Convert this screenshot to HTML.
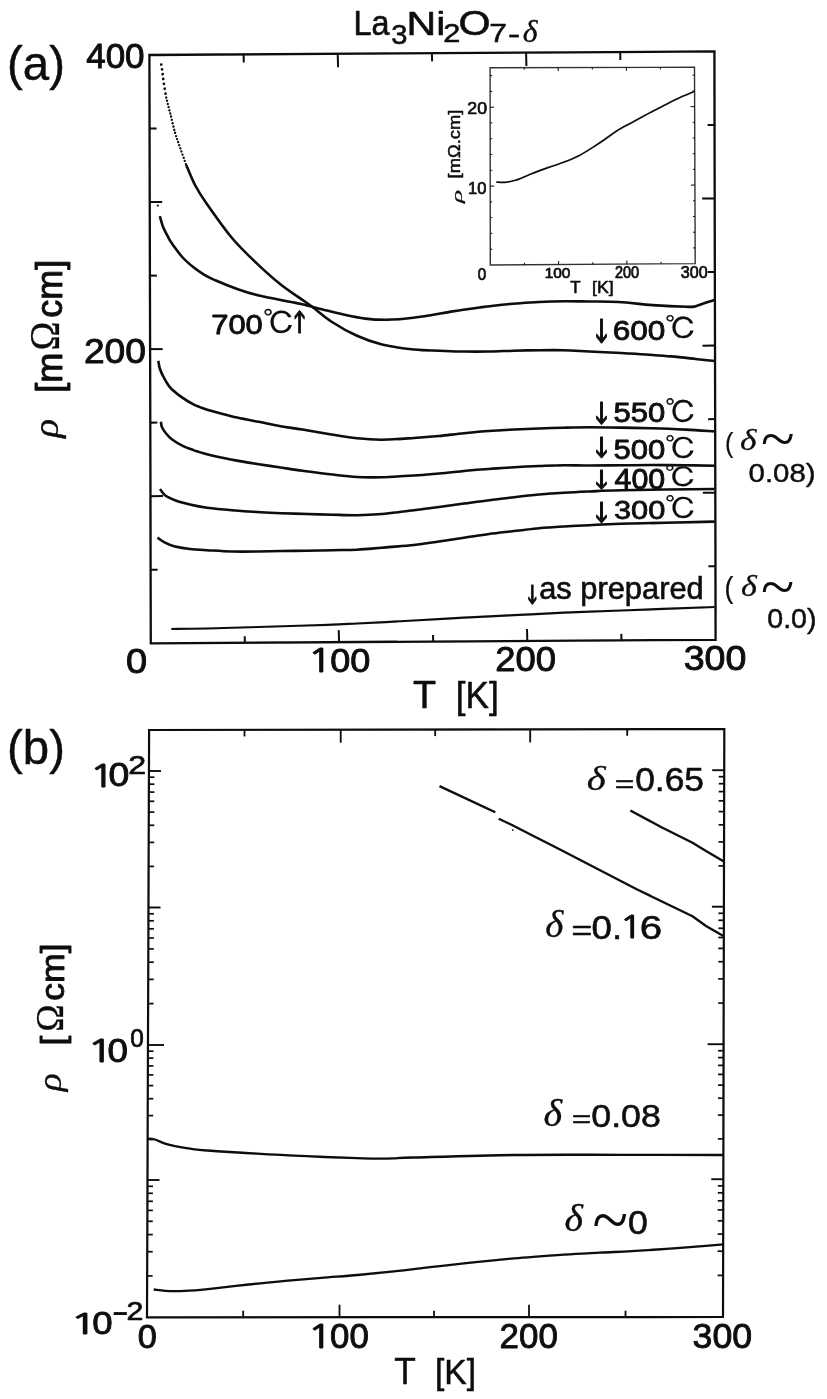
<!DOCTYPE html>
<html><head><meta charset="utf-8"><title>La3Ni2O7-delta resistivity</title>
<style>html,body{margin:0;padding:0;background:#fff}svg{display:block}text{fill:#0a0a0a}</style></head>
<body>
<svg width="827" height="1399" viewBox="0 0 827 1399">
<defs><filter id="soft" x="0" y="0" width="827" height="1399" filterUnits="userSpaceOnUse"><feGaussianBlur stdDeviation="0.45"/></filter></defs>
<rect width="827" height="1399" fill="#fff"/>
<g filter="url(#soft)">
<g fill="none" stroke="#0a0a0a" stroke-linecap="butt" stroke-linejoin="miter">
<polygon points="149.4,55.0 714.4,51.4 715.6,639.8 150.8,643.3" stroke-width="2.3"/>
<line x1="243.6" y1="54.4" x2="243.8" y2="62.4" stroke-width="2.0"/>
<line x1="244.9" y1="642.7" x2="244.7" y2="636.2" stroke-width="2.0"/>
<line x1="337.7" y1="53.8" x2="338.1" y2="67.3" stroke-width="2.0"/>
<line x1="339.1" y1="642.1" x2="338.7" y2="630.1" stroke-width="2.0"/>
<line x1="431.9" y1="53.2" x2="432.1" y2="61.2" stroke-width="2.0"/>
<line x1="433.2" y1="641.5" x2="433.0" y2="635.0" stroke-width="2.0"/>
<line x1="526.1" y1="52.6" x2="526.4" y2="66.1" stroke-width="2.0"/>
<line x1="527.3" y1="641.0" x2="527.0" y2="629.0" stroke-width="2.0"/>
<line x1="620.2" y1="52.0" x2="620.4" y2="60.0" stroke-width="2.0"/>
<line x1="621.5" y1="640.4" x2="621.3" y2="633.9" stroke-width="2.0"/>
<line x1="150.6" y1="569.8" x2="157.6" y2="569.7" stroke-width="2.0"/>
<line x1="715.4" y1="566.2" x2="708.4" y2="566.3" stroke-width="2.0"/>
<line x1="150.5" y1="496.2" x2="163.0" y2="496.1" stroke-width="2.0"/>
<line x1="715.3" y1="492.7" x2="702.8" y2="492.8" stroke-width="2.0"/>
<line x1="150.3" y1="422.7" x2="157.3" y2="422.6" stroke-width="2.0"/>
<line x1="715.1" y1="419.1" x2="708.1" y2="419.2" stroke-width="2.0"/>
<line x1="150.1" y1="349.1" x2="162.6" y2="349.1" stroke-width="2.0"/>
<line x1="715.0" y1="345.6" x2="702.5" y2="345.7" stroke-width="2.0"/>
<line x1="149.9" y1="275.6" x2="156.9" y2="275.6" stroke-width="2.0"/>
<line x1="714.9" y1="272.0" x2="707.9" y2="272.1" stroke-width="2.0"/>
<line x1="149.8" y1="202.1" x2="162.2" y2="202.0" stroke-width="2.0"/>
<line x1="714.7" y1="198.5" x2="702.2" y2="198.6" stroke-width="2.0"/>
<line x1="149.6" y1="128.5" x2="156.6" y2="128.5" stroke-width="2.0"/>
<line x1="714.6" y1="124.9" x2="707.6" y2="125.0" stroke-width="2.0"/>
<path d="M161.2,64.5C161.4,65.8 162.1,69.5 162.5,72.5C162.9,75.5 163.1,78.3 163.7,82.5C164.3,86.7 165.8,95.0 166.2,97.5" stroke-width="2.7" stroke-dasharray="0.1 4.8" stroke-linecap="round"/>
<path d="M166.2,97.5C166.8,100.0 168.5,106.7 170.0,112.5C171.5,118.3 173.3,126.7 175.0,132.5C176.7,138.3 178.1,142.1 180.0,147.5C181.9,152.9 185.2,162.1 186.2,165.0" stroke-width="2.3" stroke-dasharray="0.1 3.2" stroke-linecap="round"/>
<path d="M186.2,165.0C187.7,168.3 191.6,178.6 195.0,185.0C198.4,191.4 200.5,194.9 206.7,203.7C212.9,212.5 223.6,228.0 232.0,238.0C240.4,248.0 248.7,255.7 257.0,263.6C265.3,271.5 273.0,278.5 282.0,285.5C291.0,292.5 302.5,299.7 310.8,305.8C319.1,311.9 324.3,317.0 332.0,322.0C339.7,327.0 348.7,332.1 357.0,335.8C365.3,339.6 372.5,342.2 382.0,344.5C391.5,346.8 404.5,348.5 414.0,349.5C423.5,350.5 430.7,350.4 439.0,350.7C447.3,351.0 455.7,351.4 464.0,351.5C472.3,351.6 480.7,351.6 489.0,351.5C497.3,351.4 505.7,350.9 514.0,350.7C522.3,350.5 530.7,350.3 539.0,350.2C547.3,350.1 555.7,350.0 564.0,350.2C572.3,350.4 579.5,351.0 589.0,351.5C598.5,352.0 611.5,352.5 621.0,353.0C630.5,353.5 637.7,353.9 646.0,354.5C654.3,355.1 662.7,355.6 671.0,356.4C679.3,357.1 688.4,358.2 695.7,359.0C703.0,359.8 711.5,360.7 714.6,361.0" stroke-width="2.6"/>
<circle cx="157.8" cy="205.6" r="1.1" fill="#0a0a0a" stroke="none"/>
<path d="M159.8,216.1C160.4,217.9 161.8,223.7 163.1,227.0C164.4,230.3 165.9,233.0 167.4,235.7C168.9,238.4 169.2,239.7 171.8,243.3C174.4,246.9 179.1,253.5 182.7,257.5C186.3,261.5 189.9,264.4 193.5,267.3C197.1,270.2 200.8,272.7 204.4,274.9C208.0,277.1 209.9,277.9 215.3,280.3C220.8,282.7 229.8,286.4 237.1,289.0C244.3,291.6 251.6,293.8 258.8,295.6C266.1,297.4 273.3,298.4 280.6,299.9C287.9,301.3 295.5,302.8 302.4,304.3C309.3,305.9 314.9,307.5 321.8,309.2C328.7,310.9 336.2,312.9 343.5,314.5C350.8,316.1 358.1,317.7 365.3,318.6C372.6,319.5 379.8,319.9 387.0,319.8C394.2,319.8 401.5,319.1 408.8,318.3C416.1,317.6 423.3,316.5 430.6,315.3C437.9,314.1 444.2,312.7 452.4,311.4C460.6,310.1 472.1,308.5 480.0,307.4C487.9,306.3 493.3,305.7 500.0,305.0C506.7,304.3 513.5,303.7 520.0,303.2C526.5,302.7 531.7,302.3 539.0,302.0C546.3,301.7 555.7,301.4 564.0,301.3C572.3,301.2 579.9,301.4 589.0,301.5C598.1,301.6 608.3,301.4 618.9,302.0C629.5,302.6 641.4,304.3 652.7,305.1C664.0,305.9 679.6,306.6 686.6,306.8C693.6,307.0 692.2,307.0 695.0,306.4C697.8,305.8 700.2,304.5 703.5,303.4C706.8,302.3 712.9,300.6 714.8,300.0" stroke-width="2.6"/>
<path d="M158.3,360.9C158.6,362.2 159.0,366.0 159.8,368.5C160.6,371.0 161.8,373.6 163.1,376.1C164.4,378.6 165.9,381.5 167.4,383.7C168.9,385.9 169.2,386.8 171.8,389.2C174.4,391.6 179.1,395.4 182.7,397.9C186.3,400.4 189.9,402.6 193.5,404.4C197.1,406.2 200.8,407.5 204.4,408.8C208.0,410.1 209.9,410.6 215.3,412.0C220.8,413.4 229.8,415.9 237.1,417.5C244.3,419.1 251.6,420.4 258.8,421.8C266.1,423.2 273.3,424.9 280.6,426.2C287.9,427.5 294.2,428.1 302.4,429.5C310.6,430.9 320.9,432.8 330.0,434.3C339.1,435.8 348.3,437.4 357.0,438.3C365.7,439.2 372.5,439.8 382.0,439.7C391.5,439.6 404.5,438.6 414.0,438.0C423.5,437.4 430.7,436.8 439.0,436.0C447.3,435.2 455.7,434.0 464.0,433.2C472.3,432.4 480.7,431.6 489.0,431.0C497.3,430.4 505.7,429.9 514.0,429.5C522.3,429.1 530.7,428.8 539.0,428.5C547.3,428.2 555.7,427.9 564.0,427.7C572.3,427.5 579.5,427.3 589.0,427.3C598.5,427.3 610.4,427.4 621.0,427.6C631.6,427.8 641.9,428.0 652.7,428.3C663.5,428.6 675.6,429.1 686.0,429.6C696.4,430.1 710.0,431.2 714.8,431.5" stroke-width="2.6"/>
<path d="M160.9,421.8C161.1,422.7 161.1,425.3 162.0,427.3C162.9,429.3 164.7,431.8 166.3,433.8C167.9,435.8 169.1,437.2 171.8,439.2C174.5,441.2 179.1,444.0 182.7,445.8C186.3,447.6 189.9,448.8 193.5,450.1C197.1,451.4 200.8,452.4 204.4,453.4C208.0,454.4 209.9,455.0 215.3,456.2C220.8,457.4 229.8,459.2 237.1,460.6C244.3,462.0 251.6,463.2 258.8,464.3C266.1,465.4 273.3,466.4 280.6,467.5C287.9,468.6 294.2,469.7 302.4,470.8C310.6,471.9 320.9,473.3 330.0,474.3C339.1,475.3 348.3,476.5 357.0,477.0C365.7,477.5 372.5,477.4 382.0,477.2C391.5,476.9 404.5,476.1 414.0,475.5C423.5,474.9 430.7,474.2 439.0,473.5C447.3,472.8 455.7,471.8 464.0,471.0C472.3,470.2 480.7,469.6 489.0,469.0C497.3,468.4 505.7,467.7 514.0,467.2C522.3,466.7 530.7,466.3 539.0,466.0C547.3,465.7 555.7,465.3 564.0,465.2C572.3,465.1 579.5,465.5 589.0,465.5C598.5,465.5 610.5,465.4 621.0,465.3C631.5,465.2 641.2,465.0 652.0,465.0C662.8,465.0 675.5,465.2 686.0,465.3C696.5,465.4 710.0,465.7 714.8,465.8" stroke-width="2.6"/>
<path d="M160.0,489.0C160.8,490.0 162.5,493.3 165.0,495.2C167.5,497.1 170.8,498.6 175.0,500.2C179.2,501.8 184.7,503.2 190.0,504.5C195.3,505.8 200.0,506.8 207.0,507.7C214.0,508.6 223.7,509.5 232.0,510.2C240.3,510.9 248.7,511.5 257.0,512.0C265.3,512.5 273.7,512.9 282.0,513.2C290.3,513.5 298.7,513.8 307.0,514.0C315.3,514.2 323.7,514.5 332.0,514.7C340.3,514.9 348.7,515.3 357.0,515.2C365.3,515.1 372.5,514.8 382.0,514.0C391.5,513.2 404.5,511.4 414.0,510.2C423.5,509.0 430.7,508.1 439.0,507.0C447.3,505.9 455.7,504.6 464.0,503.5C472.3,502.4 480.7,501.2 489.0,500.2C497.3,499.1 505.7,498.1 514.0,497.2C522.3,496.2 530.7,495.2 539.0,494.5C547.3,493.8 555.7,493.2 564.0,492.7C572.3,492.2 579.5,491.9 589.0,491.5C598.5,491.1 600.1,490.6 621.0,490.2C641.9,489.8 699.0,489.2 714.6,489.0" stroke-width="2.6"/>
<path d="M157.5,537.7C158.8,538.5 162.1,541.2 165.0,542.7C167.9,544.2 170.8,545.5 175.0,546.5C179.2,547.5 184.7,548.4 190.0,549.0C195.3,549.6 200.0,549.8 207.0,550.2C214.0,550.6 223.7,551.3 232.0,551.5C240.3,551.7 248.7,551.6 257.0,551.5C265.3,551.4 273.7,551.1 282.0,551.0C290.3,550.9 298.7,550.8 307.0,550.7C315.3,550.6 323.7,550.4 332.0,550.2C340.3,550.0 348.7,550.1 357.0,549.7C365.3,549.3 372.5,548.5 382.0,547.7C391.5,546.9 404.5,546.0 414.0,545.0C423.5,544.0 430.7,542.7 439.0,541.5C447.3,540.3 455.7,539.0 464.0,537.7C472.3,536.5 480.7,535.1 489.0,534.0C497.3,532.9 505.7,532.0 514.0,531.0C522.3,530.0 530.7,529.0 539.0,528.2C547.3,527.5 555.7,527.0 564.0,526.5C572.3,526.0 579.5,525.7 589.0,525.2C598.5,524.8 600.1,524.4 621.0,523.8C641.9,523.2 699.0,522.0 714.6,521.6" stroke-width="2.6"/>
<path d="M171.3,629.0C177.2,628.9 184.4,629.1 207.0,628.5C229.6,627.9 282.0,626.3 307.0,625.5C332.0,624.7 339.2,624.3 357.0,623.5C374.8,622.7 396.2,621.5 414.0,620.5C431.8,619.5 447.3,618.6 464.0,617.7C480.7,616.8 497.3,616.0 514.0,615.2C530.7,614.4 546.2,613.5 564.0,612.7C581.8,611.9 595.9,611.5 621.0,610.5C646.1,609.5 699.0,607.6 714.6,607.0" stroke-width="2.2"/>
<polygon points="490.1,67.7 694.5,67.3 695.2,263.6 490.3,265.0" stroke-width="1.4" stroke="#333"/>
<line x1="524.2" y1="67.6" x2="524.2" y2="69.6" stroke-width="1.0"/>
<line x1="524.5" y1="264.8" x2="524.5" y2="262.8" stroke-width="1.0"/>
<line x1="558.2" y1="67.6" x2="558.2" y2="71.1" stroke-width="1.0"/>
<line x1="558.6" y1="264.5" x2="558.6" y2="261.0" stroke-width="1.0"/>
<line x1="592.3" y1="67.5" x2="592.3" y2="69.5" stroke-width="1.0"/>
<line x1="592.8" y1="264.3" x2="592.8" y2="262.3" stroke-width="1.0"/>
<line x1="626.4" y1="67.4" x2="626.4" y2="70.9" stroke-width="1.0"/>
<line x1="626.9" y1="264.1" x2="626.9" y2="260.6" stroke-width="1.0"/>
<line x1="660.4" y1="67.4" x2="660.4" y2="69.4" stroke-width="1.0"/>
<line x1="661.1" y1="263.8" x2="661.1" y2="261.8" stroke-width="1.0"/>
<line x1="490.3" y1="249.2" x2="492.3" y2="249.2" stroke-width="1.0"/>
<line x1="695.1" y1="247.9" x2="693.1" y2="247.9" stroke-width="1.0"/>
<line x1="490.3" y1="233.4" x2="492.3" y2="233.4" stroke-width="1.0"/>
<line x1="695.1" y1="232.2" x2="693.1" y2="232.2" stroke-width="1.0"/>
<line x1="490.3" y1="217.6" x2="492.3" y2="217.6" stroke-width="1.0"/>
<line x1="695.0" y1="216.5" x2="693.0" y2="216.5" stroke-width="1.0"/>
<line x1="490.2" y1="201.9" x2="492.2" y2="201.9" stroke-width="1.0"/>
<line x1="695.0" y1="200.8" x2="693.0" y2="200.8" stroke-width="1.0"/>
<line x1="490.2" y1="186.1" x2="494.2" y2="186.1" stroke-width="1.0"/>
<line x1="694.9" y1="185.1" x2="690.9" y2="185.1" stroke-width="1.0"/>
<line x1="490.2" y1="170.3" x2="492.2" y2="170.3" stroke-width="1.0"/>
<line x1="694.9" y1="169.4" x2="692.9" y2="169.4" stroke-width="1.0"/>
<line x1="490.2" y1="154.5" x2="492.2" y2="154.5" stroke-width="1.0"/>
<line x1="694.8" y1="153.7" x2="692.8" y2="153.7" stroke-width="1.0"/>
<line x1="490.2" y1="138.7" x2="492.2" y2="138.7" stroke-width="1.0"/>
<line x1="694.8" y1="138.0" x2="692.8" y2="138.0" stroke-width="1.0"/>
<line x1="490.2" y1="122.9" x2="492.2" y2="122.9" stroke-width="1.0"/>
<line x1="694.7" y1="122.3" x2="692.7" y2="122.3" stroke-width="1.0"/>
<line x1="490.1" y1="107.2" x2="494.1" y2="107.2" stroke-width="1.0"/>
<line x1="694.6" y1="106.6" x2="690.6" y2="106.6" stroke-width="1.0"/>
<line x1="490.1" y1="91.4" x2="492.1" y2="91.4" stroke-width="1.0"/>
<line x1="694.6" y1="90.9" x2="692.6" y2="90.9" stroke-width="1.0"/>
<line x1="490.1" y1="75.6" x2="492.1" y2="75.6" stroke-width="1.0"/>
<line x1="694.5" y1="75.2" x2="692.5" y2="75.2" stroke-width="1.0"/>
<path d="M496.3,182.1C497.8,182.1 502.0,182.6 505.2,182.3C508.4,182.0 511.6,181.5 515.4,180.3C519.2,179.1 523.9,176.9 528.1,175.2C532.3,173.5 536.6,171.7 540.8,170.1C545.0,168.5 549.3,167.3 553.5,165.8C557.7,164.3 562.0,163.0 566.2,161.3C570.4,159.6 574.7,157.9 578.9,155.7C583.1,153.5 587.4,150.8 591.6,148.1C595.8,145.4 600.1,142.6 604.3,139.7C608.5,136.8 612.8,133.5 617.0,130.8C621.2,128.1 625.5,126.0 629.7,123.7C633.9,121.4 638.2,119.1 642.4,116.8C646.6,114.5 650.9,112.2 655.1,110.0C659.3,107.8 663.6,105.5 667.8,103.4C672.0,101.3 676.0,99.3 680.5,97.3C685.0,95.3 692.4,92.2 694.8,91.2" stroke-width="1.7"/>
<polygon points="149.1,730.0 724.3,729.1 723.0,1317.0 147.0,1317.3" stroke-width="2.2"/>
<line x1="244.5" y1="729.9" x2="244.5" y2="736.4" stroke-width="1.8"/>
<line x1="243.2" y1="1317.2" x2="243.2" y2="1310.7" stroke-width="1.8"/>
<line x1="340.7" y1="729.7" x2="340.7" y2="742.7" stroke-width="1.8"/>
<line x1="339.5" y1="1317.2" x2="339.5" y2="1304.7" stroke-width="1.8"/>
<line x1="435.2" y1="729.6" x2="435.2" y2="736.1" stroke-width="1.8"/>
<line x1="434.0" y1="1317.2" x2="434.0" y2="1310.7" stroke-width="1.8"/>
<line x1="530.2" y1="729.4" x2="530.2" y2="742.4" stroke-width="1.8"/>
<line x1="529.0" y1="1317.2" x2="529.0" y2="1304.7" stroke-width="1.8"/>
<line x1="627.2" y1="729.3" x2="627.2" y2="735.8" stroke-width="1.8"/>
<line x1="625.5" y1="1317.2" x2="625.5" y2="1310.7" stroke-width="1.8"/>
<line x1="149.0" y1="771.0" x2="161.0" y2="771.0" stroke-width="1.9"/>
<line x1="724.2" y1="770.2" x2="712.2" y2="770.2" stroke-width="1.9"/>
<line x1="148.9" y1="777.2" x2="154.4" y2="777.2" stroke-width="1.7"/>
<line x1="724.2" y1="776.7" x2="718.7" y2="776.7" stroke-width="1.7"/>
<line x1="148.9" y1="784.2" x2="154.4" y2="784.2" stroke-width="1.7"/>
<line x1="724.2" y1="783.7" x2="718.7" y2="783.7" stroke-width="1.7"/>
<line x1="148.9" y1="792.1" x2="154.4" y2="792.1" stroke-width="1.7"/>
<line x1="724.2" y1="791.6" x2="718.7" y2="791.6" stroke-width="1.7"/>
<line x1="148.8" y1="801.3" x2="154.3" y2="801.3" stroke-width="1.7"/>
<line x1="724.1" y1="800.8" x2="718.6" y2="800.8" stroke-width="1.7"/>
<line x1="148.8" y1="812.1" x2="154.3" y2="812.1" stroke-width="1.7"/>
<line x1="724.1" y1="811.6" x2="718.6" y2="811.6" stroke-width="1.7"/>
<line x1="148.8" y1="825.3" x2="154.3" y2="825.3" stroke-width="1.7"/>
<line x1="724.1" y1="824.8" x2="718.6" y2="824.8" stroke-width="1.7"/>
<line x1="148.7" y1="842.4" x2="154.2" y2="842.4" stroke-width="1.7"/>
<line x1="724.0" y1="841.9" x2="718.5" y2="841.9" stroke-width="1.7"/>
<line x1="148.6" y1="866.4" x2="154.1" y2="866.4" stroke-width="1.7"/>
<line x1="724.0" y1="865.9" x2="718.5" y2="865.9" stroke-width="1.7"/>
<line x1="148.5" y1="907.5" x2="160.5" y2="907.5" stroke-width="1.9"/>
<line x1="723.9" y1="906.7" x2="711.9" y2="906.7" stroke-width="1.9"/>
<line x1="148.4" y1="913.8" x2="153.9" y2="913.8" stroke-width="1.7"/>
<line x1="723.9" y1="913.3" x2="718.4" y2="913.3" stroke-width="1.7"/>
<line x1="148.4" y1="920.8" x2="153.9" y2="920.8" stroke-width="1.7"/>
<line x1="723.9" y1="920.3" x2="718.4" y2="920.3" stroke-width="1.7"/>
<line x1="148.4" y1="928.8" x2="153.9" y2="928.8" stroke-width="1.7"/>
<line x1="723.9" y1="928.3" x2="718.4" y2="928.3" stroke-width="1.7"/>
<line x1="148.4" y1="938.0" x2="153.9" y2="938.0" stroke-width="1.7"/>
<line x1="723.8" y1="937.5" x2="718.3" y2="937.5" stroke-width="1.7"/>
<line x1="148.3" y1="948.9" x2="153.8" y2="948.9" stroke-width="1.7"/>
<line x1="723.8" y1="948.4" x2="718.3" y2="948.4" stroke-width="1.7"/>
<line x1="148.3" y1="962.2" x2="153.8" y2="962.2" stroke-width="1.7"/>
<line x1="723.8" y1="961.7" x2="718.3" y2="961.7" stroke-width="1.7"/>
<line x1="148.2" y1="979.4" x2="153.7" y2="979.4" stroke-width="1.7"/>
<line x1="723.7" y1="978.9" x2="718.2" y2="978.9" stroke-width="1.7"/>
<line x1="148.1" y1="1003.6" x2="153.6" y2="1003.6" stroke-width="1.7"/>
<line x1="723.7" y1="1003.1" x2="718.2" y2="1003.1" stroke-width="1.7"/>
<line x1="148.0" y1="1045.0" x2="164.0" y2="1045.0" stroke-width="1.9"/>
<line x1="723.6" y1="1044.2" x2="707.6" y2="1044.2" stroke-width="1.9"/>
<line x1="148.0" y1="1051.2" x2="153.5" y2="1051.2" stroke-width="1.7"/>
<line x1="723.6" y1="1050.7" x2="718.1" y2="1050.7" stroke-width="1.7"/>
<line x1="147.9" y1="1058.1" x2="153.4" y2="1058.1" stroke-width="1.7"/>
<line x1="723.6" y1="1057.6" x2="718.1" y2="1057.6" stroke-width="1.7"/>
<line x1="147.9" y1="1065.9" x2="153.4" y2="1065.9" stroke-width="1.7"/>
<line x1="723.6" y1="1065.4" x2="718.1" y2="1065.4" stroke-width="1.7"/>
<line x1="147.9" y1="1074.9" x2="153.4" y2="1074.9" stroke-width="1.7"/>
<line x1="723.5" y1="1074.4" x2="718.0" y2="1074.4" stroke-width="1.7"/>
<line x1="147.8" y1="1085.6" x2="153.3" y2="1085.6" stroke-width="1.7"/>
<line x1="723.5" y1="1085.1" x2="718.0" y2="1085.1" stroke-width="1.7"/>
<line x1="147.8" y1="1098.7" x2="153.3" y2="1098.7" stroke-width="1.7"/>
<line x1="723.5" y1="1098.2" x2="718.0" y2="1098.2" stroke-width="1.7"/>
<line x1="147.7" y1="1115.6" x2="153.2" y2="1115.6" stroke-width="1.7"/>
<line x1="723.4" y1="1115.1" x2="717.9" y2="1115.1" stroke-width="1.7"/>
<line x1="147.6" y1="1139.4" x2="153.1" y2="1139.4" stroke-width="1.7"/>
<line x1="723.4" y1="1138.9" x2="717.9" y2="1138.9" stroke-width="1.7"/>
<line x1="147.5" y1="1180.0" x2="159.5" y2="1180.0" stroke-width="1.9"/>
<line x1="723.3" y1="1179.2" x2="711.3" y2="1179.2" stroke-width="1.9"/>
<line x1="147.5" y1="1186.3" x2="153.0" y2="1186.3" stroke-width="1.7"/>
<line x1="723.3" y1="1185.8" x2="717.8" y2="1185.8" stroke-width="1.7"/>
<line x1="147.4" y1="1193.3" x2="152.9" y2="1193.3" stroke-width="1.7"/>
<line x1="723.3" y1="1192.8" x2="717.8" y2="1192.8" stroke-width="1.7"/>
<line x1="147.4" y1="1201.3" x2="152.9" y2="1201.3" stroke-width="1.7"/>
<line x1="723.3" y1="1200.8" x2="717.8" y2="1200.8" stroke-width="1.7"/>
<line x1="147.4" y1="1210.4" x2="152.9" y2="1210.4" stroke-width="1.7"/>
<line x1="723.2" y1="1209.9" x2="717.7" y2="1209.9" stroke-width="1.7"/>
<line x1="147.3" y1="1221.3" x2="152.8" y2="1221.3" stroke-width="1.7"/>
<line x1="723.2" y1="1220.8" x2="717.7" y2="1220.8" stroke-width="1.7"/>
<line x1="147.3" y1="1234.6" x2="152.8" y2="1234.6" stroke-width="1.7"/>
<line x1="723.2" y1="1234.1" x2="717.7" y2="1234.1" stroke-width="1.7"/>
<line x1="147.2" y1="1251.7" x2="152.7" y2="1251.7" stroke-width="1.7"/>
<line x1="723.1" y1="1251.2" x2="717.6" y2="1251.2" stroke-width="1.7"/>
<line x1="147.1" y1="1275.9" x2="152.6" y2="1275.9" stroke-width="1.7"/>
<line x1="723.1" y1="1275.4" x2="717.6" y2="1275.4" stroke-width="1.7"/>
<path d="M630.3,810.4 L661.0,827.0 L692.5,842.7 L706.0,851.0 L724.3,861.7" stroke-width="2.3" stroke-linejoin="round"/>
<path d="M439.5,786.1 L495.3,812.3" stroke-width="2.3"/>
<path d="M498.7,818.8 L512.0,825.0 L530.0,834.3 L560.0,849.6 L636.7,889.2 L692.5,916.3 L706.0,926.0 L724.3,936.6" stroke-width="2.3" stroke-linejoin="round"/>
<circle cx="512.8" cy="830.1" r="0.9" fill="#0a0a0a" stroke="none"/>
<path d="M147.5,1138.7C148.8,1138.8 152.1,1138.7 155.0,1139.5C157.9,1140.3 161.7,1142.6 165.0,1143.7C168.3,1144.8 170.8,1145.4 175.0,1146.2C179.2,1147.0 184.7,1148.0 190.0,1148.7C195.3,1149.4 195.8,1149.7 207.0,1150.5C218.2,1151.3 240.3,1152.8 257.0,1153.7C273.7,1154.7 290.3,1155.5 307.0,1156.2C323.7,1157.0 344.5,1157.8 357.0,1158.2C369.5,1158.6 372.5,1158.8 382.0,1158.7C391.5,1158.6 392.0,1158.1 414.0,1157.5C436.0,1156.9 479.5,1155.5 514.0,1155.0C548.5,1154.5 586.1,1154.8 621.0,1154.8C655.9,1154.8 706.4,1155.0 723.5,1155.0" stroke-width="2.3"/>
<path d="M153.7,1289.5C155.6,1289.7 161.2,1290.5 165.0,1290.8C168.8,1291.1 171.3,1291.3 176.3,1291.2C181.3,1291.1 189.0,1290.7 195.0,1290.3C201.0,1289.9 203.5,1289.7 212.5,1288.7C221.5,1287.7 236.7,1285.8 248.8,1284.5C260.9,1283.2 273.0,1281.9 285.1,1280.8C297.2,1279.7 309.3,1278.8 321.4,1277.8C333.5,1276.8 345.5,1276.1 357.6,1275.0C369.7,1273.9 381.8,1272.7 393.9,1271.4C406.0,1270.1 418.3,1268.5 430.0,1267.2C441.7,1265.9 450.0,1264.9 464.0,1263.4C478.0,1261.9 497.3,1259.9 514.0,1258.4C530.7,1256.9 549.7,1255.6 564.0,1254.6C578.3,1253.6 588.7,1253.2 600.0,1252.6C611.3,1252.0 619.9,1251.9 631.6,1251.2C643.3,1250.5 657.6,1249.5 670.0,1248.6C682.4,1247.7 696.8,1246.5 705.7,1245.8C714.6,1245.1 720.5,1244.6 723.5,1244.4" stroke-width="2.3"/>
</g>
<g>
<text transform="matrix(0.7894,0,0,0.8036,7.04,80.06)" font-size="60" style="font-family:'Liberation Sans', sans-serif;" stroke="#0a0a0a" stroke-width="0.50" stroke-linejoin="round">(a)</text>
<text transform="matrix(0.5835,0,0,0.5860,86.17,68.26)" font-size="60" style="font-family:'Liberation Sans', sans-serif;" stroke="#0a0a0a" stroke-width="1.54" stroke-linejoin="round">400</text>
<text transform="matrix(0.6200,0,0,0.5977,83.89,362.65)" font-size="60" style="font-family:'Liberation Sans', sans-serif;" stroke="#0a0a0a" stroke-width="1.48" stroke-linejoin="round">200</text>
<text transform="matrix(0.6345,0,0,0.5698,125.88,673.28)" font-size="60" style="font-family:'Liberation Sans', sans-serif;" stroke="#0a0a0a" stroke-width="1.50" stroke-linejoin="round">0</text>
<text transform="matrix(0.6846,0,0,0.5244,307.54,671.70)" font-size="60" style="font-family:'NanumGothic', 'Liberation Sans', sans-serif;" stroke="#0a0a0a" stroke-width="2.00" stroke-linejoin="round">1</text>
<text transform="matrix(0.6016,0,0,0.5674,330.25,671.58)" font-size="60" style="font-family:'Liberation Sans', sans-serif;" stroke="#0a0a0a" stroke-width="1.54" stroke-linejoin="round">00</text>
<text transform="matrix(0.6074,0,0,0.5698,495.33,670.88)" font-size="60" style="font-family:'Liberation Sans', sans-serif;" stroke="#0a0a0a" stroke-width="1.53" stroke-linejoin="round">200</text>
<text transform="matrix(0.6271,0,0,0.5698,683.70,670.08)" font-size="60" style="font-family:'Liberation Sans', sans-serif;" stroke="#0a0a0a" stroke-width="1.51" stroke-linejoin="round">300</text>
<text transform="matrix(0.6294,0,0,0.6366,412.92,708.35)" font-size="60" style="font-family:'Liberation Sans', sans-serif;" stroke="#0a0a0a" stroke-width="0.79" stroke-linejoin="round">T</text>
<text transform="matrix(0.5846,0,0,0.6073,455.81,707.66)" font-size="60" style="font-family:'Liberation Sans', sans-serif;" stroke="#0a0a0a" stroke-width="0.84" stroke-linejoin="round">[K]</text>
<text transform="matrix(0.5387,0,0,0.5810,353.61,34.72)" font-size="60" style="font-family:'Liberation Sans', sans-serif;" stroke="#0a0a0a" stroke-width="1.07" stroke-linejoin="round">La</text>
<text transform="matrix(0.4845,0,0,0.4640,391.21,43.66)" font-size="60" style="font-family:'Liberation Sans', sans-serif;" stroke="#0a0a0a" stroke-width="1.16" stroke-linejoin="round">3</text>
<text transform="matrix(0.6854,0,0,0.5628,406.57,34.90)" font-size="60" style="font-family:'Liberation Sans', sans-serif;" stroke="#0a0a0a" stroke-width="0.97" stroke-linejoin="round">Ni</text>
<text transform="matrix(0.5130,0,0,0.4345,443.24,42.12)" font-size="60" style="font-family:'Liberation Sans', sans-serif;" stroke="#0a0a0a" stroke-width="1.16" stroke-linejoin="round">2</text>
<text transform="matrix(0.6878,0,0,0.5907,458.44,34.91)" font-size="60" style="font-family:'Liberation Sans', sans-serif;" stroke="#0a0a0a" stroke-width="0.94" stroke-linejoin="round">O</text>
<text transform="matrix(0.5315,0,0,0.4354,489.28,42.12)" font-size="60" style="font-family:'Liberation Sans', sans-serif;" stroke="#0a0a0a" stroke-width="1.14" stroke-linejoin="round">7</text>
<text transform="matrix(0.3241,0,0,0.5500,508.33,46.70)" font-size="60" style="font-family:'Liberation Sans', sans-serif;" stroke="#0a0a0a" stroke-width="0.47" stroke-linejoin="round">−</text>
<text transform="matrix(0.5296,0,0,0.5372,522.69,41.91)" font-size="60" style="font-family:'Liberation Serif', serif;font-style:italic;" stroke="#0a0a0a" stroke-width="0.56" stroke-linejoin="round">δ</text>
<text transform="matrix(0.5158,0,0,0.4745,211.20,333.68)" font-size="60" style="font-family:'Liberation Sans', sans-serif;" stroke="#0a0a0a" stroke-width="1.81" stroke-linejoin="round">700</text>
<text transform="matrix(0.5430,0,0,0.5074,262.65,333.54)" font-size="60" style="font-family:'IPAGothic', 'Noto Sans CJK JP', sans-serif;" stroke="#0a0a0a" stroke-width="0.29" stroke-linejoin="round">℃</text>
<text transform="matrix(0.4364,0,0,0.4113,286.51,332.27)" font-size="60" style="font-family:'IPAGothic', 'Noto Sans CJK JP', sans-serif;" stroke="#0a0a0a" stroke-width="1.89" stroke-linejoin="round">↑</text>
<text transform="matrix(0.4591,0,0,0.4396,587.73,341.49)" font-size="60" style="font-family:'IPAGothic', 'Noto Sans CJK JP', sans-serif;" stroke="#0a0a0a" stroke-width="2.00" stroke-linejoin="round">↓</text>
<text transform="matrix(0.5256,0,0,0.4589,612.66,339.71)" font-size="60" style="font-family:'Liberation Sans', sans-serif;" stroke="#0a0a0a" stroke-width="1.76" stroke-linejoin="round">600</text>
<text transform="matrix(0.5370,0,0,0.4840,664.76,338.99)" font-size="60" style="font-family:'IPAGothic', 'Noto Sans CJK JP', sans-serif;" stroke="#0a0a0a" stroke-width="0.29" stroke-linejoin="round">℃</text>
<text transform="matrix(0.4591,0,0,0.4302,587.73,423.13)" font-size="60" style="font-family:'IPAGothic', 'Noto Sans CJK JP', sans-serif;" stroke="#0a0a0a" stroke-width="2.03" stroke-linejoin="round">↓</text>
<text transform="matrix(0.5170,0,0,0.4701,613.49,421.79)" font-size="60" style="font-family:'Liberation Sans', sans-serif;" stroke="#0a0a0a" stroke-width="1.80" stroke-linejoin="round">550</text>
<text transform="matrix(0.5370,0,0,0.5011,664.76,422.83)" font-size="60" style="font-family:'IPAGothic', 'Noto Sans CJK JP', sans-serif;" stroke="#0a0a0a" stroke-width="0.29" stroke-linejoin="round">℃</text>
<text transform="matrix(0.4591,0,0,0.3811,587.73,456.03)" font-size="60" style="font-family:'IPAGothic', 'Noto Sans CJK JP', sans-serif;" stroke="#0a0a0a" stroke-width="2.15" stroke-linejoin="round">↓</text>
<text transform="matrix(0.5173,0,0,0.4523,613.47,458.82)" font-size="60" style="font-family:'Liberation Sans', sans-serif;" stroke="#0a0a0a" stroke-width="1.76" stroke-linejoin="round">500</text>
<text transform="matrix(0.5370,0,0,0.4819,664.76,458.89)" font-size="60" style="font-family:'IPAGothic', 'Noto Sans CJK JP', sans-serif;" stroke="#0a0a0a" stroke-width="0.29" stroke-linejoin="round">℃</text>
<text transform="matrix(0.4591,0,0,0.3660,587.73,488.29)" font-size="60" style="font-family:'IPAGothic', 'Noto Sans CJK JP', sans-serif;" stroke="#0a0a0a" stroke-width="2.20" stroke-linejoin="round">↓</text>
<text transform="matrix(0.5062,0,0,0.4791,614.54,489.27)" font-size="60" style="font-family:'Liberation Sans', sans-serif;" stroke="#0a0a0a" stroke-width="1.83" stroke-linejoin="round">400</text>
<text transform="matrix(0.5370,0,0,0.4457,664.76,486.72)" font-size="60" style="font-family:'IPAGothic', 'Noto Sans CJK JP', sans-serif;" stroke="#0a0a0a" stroke-width="0.31" stroke-linejoin="round">℃</text>
<text transform="matrix(0.4591,0,0,0.3981,587.73,521.16)" font-size="60" style="font-family:'IPAGothic', 'Noto Sans CJK JP', sans-serif;" stroke="#0a0a0a" stroke-width="2.11" stroke-linejoin="round">↓</text>
<text transform="matrix(0.5123,0,0,0.4344,613.98,518.96)" font-size="60" style="font-family:'Liberation Sans', sans-serif;" stroke="#0a0a0a" stroke-width="1.74" stroke-linejoin="round">300</text>
<text transform="matrix(0.5370,0,0,0.4819,664.76,518.99)" font-size="60" style="font-family:'IPAGothic', 'Noto Sans CJK JP', sans-serif;" stroke="#0a0a0a" stroke-width="0.29" stroke-linejoin="round">℃</text>
<text transform="matrix(0.3455,0,0,0.3623,522.09,603.40)" font-size="60" style="font-family:'IPAGothic', 'Noto Sans CJK JP', sans-serif;" stroke="#0a0a0a" stroke-width="2.54" stroke-linejoin="round">↓</text>
<text transform="matrix(0.5141,0,0,0.5091,539.16,598.89)" font-size="60" style="font-family:'Liberation Sans', sans-serif;" stroke="#0a0a0a" stroke-width="1.17" stroke-linejoin="round">as prepared</text>
<text transform="matrix(0.4200,0,0,0.4709,724.92,451.75)" font-size="60" style="font-family:'Liberation Sans', sans-serif;" stroke="#0a0a0a" stroke-width="0.45" stroke-linejoin="round">(</text>
<text transform="matrix(0.5889,0,0,0.4767,739.97,450.37)" font-size="60" style="font-family:'Liberation Serif', serif;font-style:italic;" stroke="#0a0a0a" stroke-width="0.57" stroke-linejoin="round">δ</text>
<text transform="matrix(1.0345,0,0,1.0000,760.93,459.00)" font-size="60" style="font-family:'Liberation Serif', serif;">~</text>
<text transform="matrix(0.4905,0,0,0.4445,748.54,481.94)" font-size="60" style="font-family:'Liberation Sans', sans-serif;" stroke="#0a0a0a" stroke-width="0.96" stroke-linejoin="round">0.08)</text>
<text transform="matrix(0.4467,0,0,0.4891,724.61,597.83)" font-size="60" style="font-family:'Liberation Sans', sans-serif;" stroke="#0a0a0a" stroke-width="0.43" stroke-linejoin="round">(</text>
<text transform="matrix(0.5667,0,0,0.4930,741.02,596.46)" font-size="60" style="font-family:'Liberation Serif', serif;font-style:italic;" stroke="#0a0a0a" stroke-width="0.57" stroke-linejoin="round">δ</text>
<text transform="matrix(1.0241,0,0,0.9700,761.05,607.25)" font-size="60" style="font-family:'Liberation Serif', serif;">~</text>
<text transform="matrix(0.4760,0,0,0.4627,767.27,628.42)" font-size="60" style="font-family:'Liberation Sans', sans-serif;" stroke="#0a0a0a" stroke-width="0.96" stroke-linejoin="round">0.0)</text>
<text transform="matrix(0,-0.6536,0.5854,0,57.94,437.80)" font-size="60" style="font-family:'Liberation Serif', serif;font-style:italic;" stroke="#0a0a0a" stroke-width="0.49" stroke-linejoin="round">ρ</text>
<text transform="matrix(0,-0.6017,0.6073,0,61.56,392.66)" font-size="60" style="font-family:'Liberation Sans', sans-serif;" stroke="#0a0a0a" stroke-width="1.49" stroke-linejoin="round">[m</text>
<text transform="matrix(0,-0.6513,0.6910,0,59.17,350.43)" font-size="60" style="font-family:'Liberation Serif', serif;" stroke="#0a0a0a" stroke-width="0.37" stroke-linejoin="round">Ω</text>
<text transform="matrix(0,-0.6000,0.6073,0,61.56,317.75)" font-size="60" style="font-family:'Liberation Sans', sans-serif;" stroke="#0a0a0a" stroke-width="1.49" stroke-linejoin="round">cm]</text>
<text transform="matrix(0.2951,0,0,0.2791,467.36,114.37)" font-size="60" style="font-family:'Liberation Sans', sans-serif;" stroke="#0a0a0a" stroke-width="2.44" stroke-linejoin="round">20</text>
<text transform="matrix(0.2746,0,0,0.2605,468.08,193.99)" font-size="60" style="font-family:'Liberation Sans', sans-serif;" stroke="#0a0a0a" stroke-width="2.62" stroke-linejoin="round">10</text>
<text transform="matrix(0.2517,0,0,0.2605,477.75,279.59)" font-size="60" style="font-family:'Liberation Sans', sans-serif;" stroke="#0a0a0a" stroke-width="2.73" stroke-linejoin="round">0</text>
<text transform="matrix(0.2581,0,0,0.2558,544.66,278.39)" font-size="60" style="font-family:'Liberation Sans', sans-serif;" stroke="#0a0a0a" stroke-width="2.72" stroke-linejoin="round">100</text>
<text transform="matrix(0.2411,0,0,0.2605,615.03,277.79)" font-size="60" style="font-family:'Liberation Sans', sans-serif;" stroke="#0a0a0a" stroke-width="2.79" stroke-linejoin="round">200</text>
<text transform="matrix(0.2677,0,0,0.2605,680.81,277.59)" font-size="60" style="font-family:'Liberation Sans', sans-serif;" stroke="#0a0a0a" stroke-width="2.65" stroke-linejoin="round">300</text>
<text transform="matrix(0.2824,0,0,0.2683,570.32,293.10)" font-size="60" style="font-family:'Liberation Sans', sans-serif;" stroke="#0a0a0a" stroke-width="2.18" stroke-linejoin="round">T</text>
<text transform="matrix(0.2938,0,0,0.2782,592.12,293.16)" font-size="60" style="font-family:'Liberation Sans', sans-serif;" stroke="#0a0a0a" stroke-width="2.10" stroke-linejoin="round">[K]</text>
<text transform="matrix(0,-0.4536,0.2366,0,461.97,202.90)" font-size="60" style="font-family:'Liberation Serif', serif;font-style:italic;" stroke="#0a0a0a" stroke-width="0.92" stroke-linejoin="round">ρ</text>
<text transform="matrix(0,-0.3065,0.2600,0,459.93,178.48)" font-size="60" style="font-family:'Liberation Sans', sans-serif;" stroke="#0a0a0a" stroke-width="1.77" stroke-linejoin="round">[mΩ.cm]</text>
<text transform="matrix(0.7894,0,0,0.8145,7.04,763.53)" font-size="60" style="font-family:'Liberation Sans', sans-serif;" stroke="#0a0a0a" stroke-width="0.50" stroke-linejoin="round">(b)</text>
<text transform="matrix(0.6923,0,0,0.5000,89.57,786.50)" font-size="60" style="font-family:'NanumGothic', 'Liberation Sans', sans-serif;" stroke="#0a0a0a" stroke-width="2.04" stroke-linejoin="round">1</text>
<text transform="matrix(0.6241,0,0,0.5395,108.40,786.31)" font-size="60" style="font-family:'Liberation Sans', sans-serif;" stroke="#0a0a0a" stroke-width="1.55" stroke-linejoin="round">0</text>
<text transform="matrix(0.5370,0,0,0.4381,128.24,774.25)" font-size="60" style="font-family:'Liberation Sans', sans-serif;" stroke="#0a0a0a" stroke-width="1.44" stroke-linejoin="round">2</text>
<text transform="matrix(0.7308,0,0,0.5111,87.02,1061.70)" font-size="60" style="font-family:'NanumGothic', 'Liberation Sans', sans-serif;" stroke="#0a0a0a" stroke-width="1.96" stroke-linejoin="round">1</text>
<text transform="matrix(0.6138,0,0,0.5512,107.42,1061.50)" font-size="60" style="font-family:'Liberation Sans', sans-serif;" stroke="#0a0a0a" stroke-width="1.55" stroke-linejoin="round">0</text>
<text transform="matrix(0.4069,0,0,0.4163,130.34,1046.83)" font-size="60" style="font-family:'Liberation Sans', sans-serif;" stroke="#0a0a0a" stroke-width="1.70" stroke-linejoin="round">0</text>
<text transform="matrix(0.7538,0,0,0.4911,69.92,1334.20)" font-size="60" style="font-family:'NanumGothic', 'Liberation Sans', sans-serif;" stroke="#0a0a0a" stroke-width="1.97" stroke-linejoin="round">1</text>
<text transform="matrix(0.6103,0,0,0.5302,92.23,1334.02)" font-size="60" style="font-family:'Liberation Sans', sans-serif;" stroke="#0a0a0a" stroke-width="1.58" stroke-linejoin="round">0</text>
<text transform="matrix(0.4448,0,0,0.6750,112.57,1326.75)" font-size="60" style="font-family:'Liberation Sans', sans-serif;" stroke="#0a0a0a" stroke-width="0.36" stroke-linejoin="round">−</text>
<text transform="matrix(0.5074,0,0,0.4262,126.53,1320.25)" font-size="60" style="font-family:'Liberation Sans', sans-serif;" stroke="#0a0a0a" stroke-width="1.51" stroke-linejoin="round">2</text>
<text transform="matrix(0.5724,0,0,0.5605,137.81,1347.59)" font-size="60" style="font-family:'Liberation Sans', sans-serif;" stroke="#0a0a0a" stroke-width="1.59" stroke-linejoin="round">0</text>
<text transform="matrix(0.6846,0,0,0.5356,307.54,1348.20)" font-size="60" style="font-family:'NanumGothic', 'Liberation Sans', sans-serif;" stroke="#0a0a0a" stroke-width="1.98" stroke-linejoin="round">1</text>
<text transform="matrix(0.5806,0,0,0.5860,330.09,1348.26)" font-size="60" style="font-family:'Liberation Sans', sans-serif;" stroke="#0a0a0a" stroke-width="1.54" stroke-linejoin="round">00</text>
<text transform="matrix(0.5821,0,0,0.5977,499.60,1348.25)" font-size="60" style="font-family:'Liberation Sans', sans-serif;" stroke="#0a0a0a" stroke-width="1.53" stroke-linejoin="round">200</text>
<text transform="matrix(0.5948,0,0,0.5977,692.56,1347.95)" font-size="60" style="font-family:'Liberation Sans', sans-serif;" stroke="#0a0a0a" stroke-width="1.51" stroke-linejoin="round">300</text>
<text transform="matrix(0.5882,0,0,0.6293,394.36,1384.25)" font-size="60" style="font-family:'Liberation Sans', sans-serif;" stroke="#0a0a0a" stroke-width="0.82" stroke-linejoin="round">T</text>
<text transform="matrix(0.5600,0,0,0.5945,435.01,1383.72)" font-size="60" style="font-family:'Liberation Sans', sans-serif;" stroke="#0a0a0a" stroke-width="0.87" stroke-linejoin="round">[K]</text>
<text transform="matrix(0.6778,0,0,0.5628,586.69,789.79)" font-size="60" style="font-family:'Liberation Serif', serif;font-style:italic;" stroke="#0a0a0a" stroke-width="0.49" stroke-linejoin="round">δ</text>
<text transform="matrix(0.5448,0,0,0.3947,615.02,791.80)" font-size="60" style="font-family:'Liberation Sans', sans-serif;" stroke="#0a0a0a" stroke-width="1.51" stroke-linejoin="round">=</text>
<text transform="matrix(0.5897,0,0,0.5477,635.20,791.08)" font-size="60" style="font-family:'Liberation Sans', sans-serif;" stroke="#0a0a0a" stroke-width="0.97" stroke-linejoin="round">0.65</text>
<text transform="matrix(0.6481,0,0,0.6186,545.35,937.13)" font-size="60" style="font-family:'Liberation Serif', serif;font-style:italic;" stroke="#0a0a0a" stroke-width="0.47" stroke-linejoin="round">δ</text>
<text transform="matrix(0.5897,0,0,0.4684,571.58,939.53)" font-size="60" style="font-family:'Liberation Sans', sans-serif;" stroke="#0a0a0a" stroke-width="1.33" stroke-linejoin="round">=</text>
<text transform="matrix(0.6107,0,0,0.5593,591.55,938.97)" font-size="60" style="font-family:'Liberation Sans', sans-serif;" stroke="#0a0a0a" stroke-width="0.94" stroke-linejoin="round">0.</text>
<text transform="matrix(0.6462,0,0,0.4956,619.28,938.40)" font-size="60" style="font-family:'NanumGothic', 'Liberation Sans', sans-serif;" stroke="#0a0a0a" stroke-width="1.77" stroke-linejoin="round">1</text>
<text transform="matrix(0.6732,0,0,0.5593,639.86,938.97)" font-size="60" style="font-family:'Liberation Sans', sans-serif;" stroke="#0a0a0a" stroke-width="0.90" stroke-linejoin="round">6</text>
<text transform="matrix(0.6667,0,0,0.6163,543.52,1126.03)" font-size="60" style="font-family:'Liberation Serif', serif;font-style:italic;" stroke="#0a0a0a" stroke-width="0.47" stroke-linejoin="round">δ</text>
<text transform="matrix(0.5448,0,0,0.3895,571.92,1127.04)" font-size="60" style="font-family:'Liberation Sans', sans-serif;" stroke="#0a0a0a" stroke-width="1.52" stroke-linejoin="round">=</text>
<text transform="matrix(0.5960,0,0,0.5314,591.28,1127.29)" font-size="60" style="font-family:'Liberation Sans', sans-serif;" stroke="#0a0a0a" stroke-width="0.98" stroke-linejoin="round">0.08</text>
<text transform="matrix(0.6630,0,0,0.6256,564.42,1230.92)" font-size="60" style="font-family:'Liberation Serif', serif;font-style:italic;" stroke="#0a0a0a" stroke-width="0.47" stroke-linejoin="round">δ</text>
<text transform="matrix(1.0931,0,0,1.1500,592.61,1243.15)" font-size="60" style="font-family:'Liberation Serif', serif;">~</text>
<text transform="matrix(0.5948,0,0,0.5430,628.09,1234.48)" font-size="60" style="font-family:'Liberation Sans', sans-serif;" stroke="#0a0a0a" stroke-width="0.97" stroke-linejoin="round">0</text>
<text transform="matrix(0,-0.6250,0.5683,0,61.06,1091.32)" font-size="60" style="font-family:'Liberation Serif', serif;font-style:italic;" stroke="#0a0a0a" stroke-width="0.50" stroke-linejoin="round">ρ</text>
<text transform="matrix(0,-0.5833,0.5673,0,64.14,1045.48)" font-size="60" style="font-family:'Liberation Sans', sans-serif;" stroke="#0a0a0a" stroke-width="1.56" stroke-linejoin="round">[</text>
<text transform="matrix(0,-0.6145,0.6731,0,62.78,1031.72)" font-size="60" style="font-family:'Liberation Serif', serif;" stroke="#0a0a0a" stroke-width="0.39" stroke-linejoin="round">Ω</text>
<text transform="matrix(0,-0.5921,0.5673,0,64.14,1000.63)" font-size="60" style="font-family:'Liberation Sans', sans-serif;" stroke="#0a0a0a" stroke-width="1.55" stroke-linejoin="round">cm]</text>
</g>
</g>
</svg>
</body></html>
